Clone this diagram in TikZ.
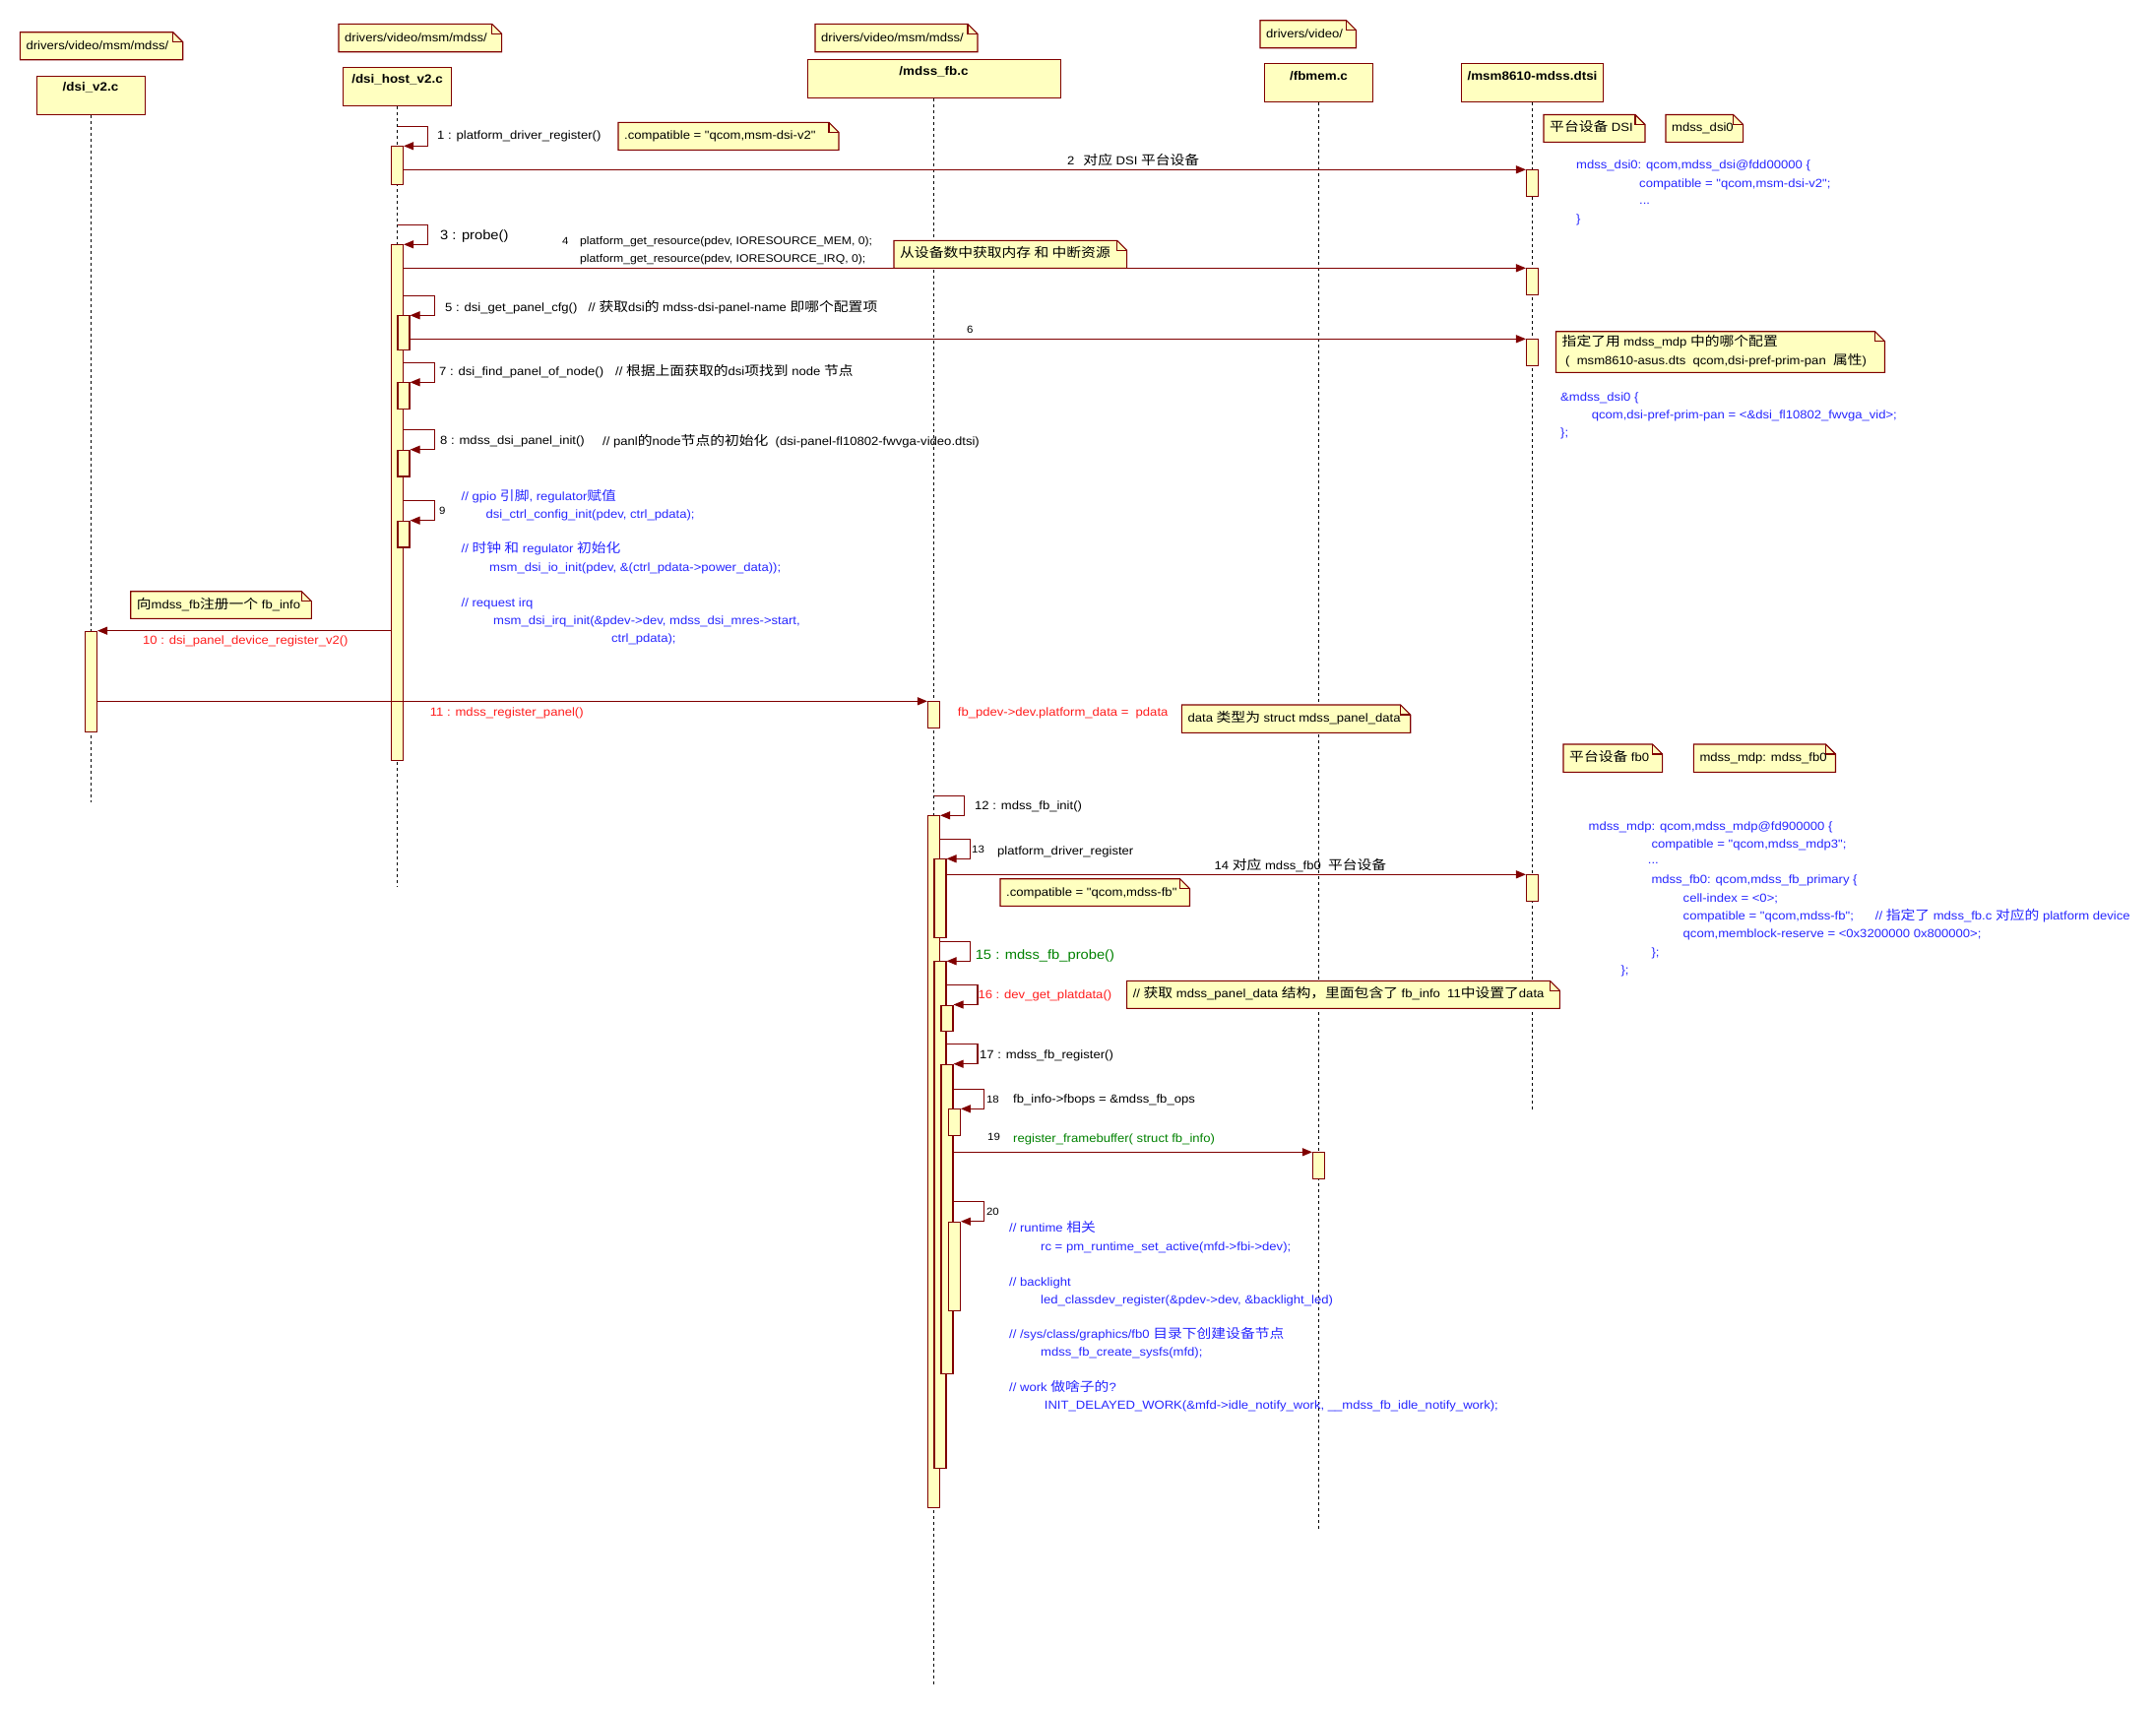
\documentclass[tikz,border=0pt]{standalone}
\usepackage{fontspec}
\setmainfont{Liberation Sans}[FakeStretch=1.09, Ligatures=TeXOff]
\newfontfamily\cjkfont{Noto Sans CJK SC}[Scale=1.1, FakeStretch=1.12]
\newcommand{\zh}[1]{{\cjkfont #1}}
\usetikzlibrary{arrows.meta,calc}

\definecolor{umlred}{RGB}{128,0,0}
\definecolor{umlyellow}{RGB}{255,255,192}
\definecolor{codeblue}{RGB}{40,40,255}
\definecolor{msgred}{RGB}{255,30,30}
\definecolor{msggreen}{RGB}{0,130,0}

\tikzset{
  lifeline/.style={black, line width=0.8pt, dash pattern=on 3pt off 3pt},
  headbox/.style={draw=umlred, fill=umlyellow, line width=1pt, minimum height=39pt, anchor=north, inner sep=0pt},
  headtitle/.style={font=\fontsize{12.3}{14}\selectfont\bfseries, inner sep=0pt},
  actbox/.style={draw=umlred, fill=umlyellow, line width=1.1pt, minimum width=12pt, anchor=north, inner sep=0pt},
  msg/.style={draw=umlred, line width=1.1pt, -{Triangle[length=10pt,width=8pt]}},
  lbl/.style={anchor=west, inner sep=0pt, font=\fontsize{12}{14}\selectfont, text height=9.5pt, text depth=2.5pt},
  biglbl/.style={lbl, font=\fontsize{13.5}{16}\selectfont, text height=11pt, text depth=3pt},
  numlbl/.style={lbl, font=\fontsize{10.5}{12}\selectfont},
  caplbl/.style={lbl, font=\fontsize{11.2}{13}\selectfont},
  codelbl/.style={lbl, text=codeblue},
  notefill/.style={fill=umlyellow, draw=umlred, line width=1.1pt},
}

% note outline with folded corner: x1, y1, x2, y2
\newcommand{\umlnotebox}[4]{%
  \draw[notefill] (#1,#2) -- ({#3-10},#2) -- (#3,{#2+10}) -- (#3,#4) -- (#1,#4) -- cycle;
  \draw[umlred, line width=1.1pt] ({#3-10},#2) -- ({#3-10},{#2+10}) -- (#3,{#2+10});
}
% note with one line of text: name, x1, y1, x2, y2, text
\newcommand{\umlnote}[6]{%
  \umlnotebox{#2}{#3}{#4}{#5}
  \node[lbl] (#1) at ({#2+6},{(#3+#5)/2}) {#6};
}

\begin{document}
\begin{tikzpicture}[x=1pt, y=-1pt]

    \fill[white] (0,0) rectangle (2190,1735);
    \useasboundingbox (0,0) rectangle (2190,1735);

    % Lifeline heads
    \node[headbox, minimum width=110pt] (v2head) at (92,76.7) {};
    \node[headbox, minimum width=110pt] (hosthead) at (403.5,68.3) {};
    \node[headbox, minimum width=257pt] (fbhead) at (948.5,60.3) {};
    \node[headbox, minimum width=110pt] (memhead) at (1339.5,64.3) {};
    \node[headbox, minimum width=144pt] (dtsihead) at (1556.5,64.3) {};

    \node[headtitle] (v2title) at ($(v2head.north)+(0,12.5)$) {/dsi\_v2.c};
    \node[headtitle] (hosttitle) at ($(hosthead.north)+(0,12.5)$) {/dsi\_host\_v2.c};
    \node[headtitle] (fbtitle) at ($(fbhead.north)+(0,12)$) {/mdss\_fb.c};
    \node[headtitle] (memtitle) at ($(memhead.north)+(0,12.5)$) {/fbmem.c};
    \node[headtitle] (dtsititle) at ($(dtsihead.north)+(0,12.5)$) {/msm8610-mdss.dtsi};

    % Lifelines
    \draw[lifeline] (v2head.south) -- ++(0,698);
    \draw[lifeline] (hosthead.south) -- ++(0,793);
    \draw[lifeline] (fbhead.south) -- ++(0,1612);
    \draw[lifeline] (memhead.south) -- ++(0,1449);
    \draw[lifeline] (dtsihead.south) -- ++(0,1024);

    % Activations
    \node[actbox, minimum height=39pt] (a1) at (403.5,148.3) {};
    \node[actbox, minimum height=27pt] (a2) at (1556.5,172.3) {};
    \node[actbox, minimum height=523.4pt] (a3) at (403.5,248.3) {};
    \node[actbox, minimum height=27pt] (a4) at (1556.5,272.3) {};
    \node[actbox, minimum height=35pt] (a5) at (410,320.3) {};
    \node[actbox, minimum height=27pt] (a6) at (1556.5,344.3) {};
    \node[actbox, minimum height=26.7pt] (a7) at (410,388.3) {};
    \node[actbox, minimum height=26.7pt] (a8) at (410,456.7) {};
    \node[actbox, minimum height=26.7pt] (a9) at (410,528.7) {};
    \node[actbox, minimum height=102.3pt] (a10) at (92.5,640.7) {};
    \node[actbox, minimum height=27pt] (a11) at (948.5,712.3) {};
    \node[actbox, minimum height=702.7pt] (a12) at (948.5,828.3) {};
    \node[actbox, minimum height=79.4pt] (a13) at (955,872.3) {};
    \node[actbox, minimum height=27pt] (a14) at (1556.5,888.3) {};
    \node[actbox, minimum height=514.7pt] (a15) at (955,976.3) {};
    \node[actbox, minimum height=26.8pt] (a16) at (962,1020.5) {};
    \node[actbox, minimum height=314.3pt] (a17) at (962,1080.7) {};
    \node[actbox, minimum height=27pt] (a18) at (969.4,1126.3) {};
    \node[actbox, minimum height=27pt] (a19) at (1339.5,1170.3) {};
    \node[actbox, minimum height=90.6pt] (a20) at (969.4,1240.7) {};

    % Messages
    \draw[msg] ($(a1.north)+(0,-20)$) -- ++(30.8,0) -- ++(0,20) -- (a1.north east);
    \draw[msg] (a1.east |- a2.north) -- (a2.north west);
    \draw[msg] ($(a3.north)+(0,-20)$) -- ++(30.8,0) -- ++(0,20) -- (a3.north east);
    \draw[msg] (a3.east |- a4.north) -- (a4.north west);
    \draw[msg] ($(a3.east |- a5.north)+(0,-20)$) -- ++(31.2,0) -- ++(0,20) -- (a5.north east);
    \draw[msg] (a5.east |- a6.north) -- (a6.north west);
    \draw[msg] ($(a3.east |- a7.north)+(0,-20)$) -- ++(31.2,0) -- ++(0,20) -- (a7.north east);
    \draw[msg] ($(a3.east |- a8.north)+(0,-20)$) -- ++(31.2,0) -- ++(0,20) -- (a8.north east);
    \draw[msg] ($(a3.east |- a9.north)+(0,-20)$) -- ++(31.2,0) -- ++(0,20) -- (a9.north east);
    \draw[msg] (a3.west |- a10.north) -- (a10.north east);
    \draw[msg] (a10.east |- a11.north) -- (a11.north west);
    \draw[msg] ($(a12.north)+(0,-20)$) -- ++(31,0) -- ++(0,20) -- (a12.north east);
    \draw[msg] ($(a12.east |- a13.north)+(0,-20)$) -- ++(30.8,0) -- ++(0,20) -- (a13.north east);
    \draw[msg] (a13.east |- a14.north) -- (a14.north west);
    \draw[msg] ($(a12.east |- a15.north)+(0,-20)$) -- ++(30.8,0) -- ++(0,20) -- (a15.north east);
    \draw[msg] ($(a15.east |- a16.north)+(0,-20)$) -- ++(31.4,0) -- ++(0,20) -- (a16.north east);
    \draw[msg] ($(a15.east |- a17.north)+(0,-20)$) -- ++(31.4,0) -- ++(0,20) -- (a17.north east);
    \draw[msg] ($(a17.east |- a18.north)+(0,-20)$) -- ++(30.7,0) -- ++(0,20) -- (a18.north east);
    \draw[msg] (a17.east |- a19.north) -- (a19.north west);
    \draw[msg] ($(a17.east |- a20.north)+(0,-20)$) -- ++(30.7,0) -- ++(0,20) -- (a20.north east);

    % Notes
    \umlnote{n1}{20.4}{32.7}{185.7}{60.7}{drivers/video/msm/mdss/}
    \umlnote{n2}{344}{24.3}{509.6}{52.7}{drivers/video/msm/mdss/}
    \umlnote{n3}{828}{24.3}{993}{52.7}{drivers/video/msm/mdss/}
    \umlnote{n4}{1280}{20.7}{1377.5}{48.7}{drivers/video/}
    \umlnote{n5}{628}{124.3}{852}{152.3}{.compatible = "qcom,msm-dsi-v2"}
    \umlnote{n6}{1568}{116.5}{1671}{144.3}{\zh{平台设备} DSI}
    \umlnote{n7}{1692}{116.5}{1770.6}{144.3}{mdss\_dsi0}
    \umlnote{n8}{908}{244.3}{1144.6}{272.3}{\zh{从设备数中获取内存 和 中断资源}}
    \umlnotebox{1580.5}{336.7}{1914.5}{378.3}
    \node[lbl] (n9a) at (1586.5,347.7) {\zh{指定了用} mdss\_mdp \zh{中的哪个配置}};
    \node[lbl] (n9b) at (1590,366.7) {(\ \ msm8610-asus.dts\ \ qcom,dsi-pref-prim-pan\ \ \zh{属性})};
    \umlnote{n10}{132.7}{600.7}{316.3}{628.3}{\zh{向}mdss\_fb\zh{注册一个} fb\_info}
    \umlnote{n11}{1200.4}{716}{1432.7}{744.3}{data \zh{类型为} struct mdss\_panel\_data}
    \umlnote{n12}{1588}{756}{1688.6}{784.3}{\zh{平台设备} fb0}
    \umlnote{n13}{1720.3}{756}{1864.5}{784.3}{mdss\_mdp: mdss\_fb0}
    \umlnote{n14}{1016}{892.7}{1208.5}{920.3}{.compatible = "qcom,mdss-fb"}
    \umlnote{n15}{1144.6}{996.3}{1584.4}{1024.3}{// \zh{获取} mdss\_panel\_data \zh{结构，里面包含了} fb\_info\ \ 11\zh{中设置了}data}

    % Message labels
    \node[lbl] (l1) at (444,138) {1 : platform\_driver\_register()};
    \node[lbl] (l2) at (1084,164) {2\hspace{9pt}\zh{对应} DSI \zh{平台设备}};
    \node[biglbl] (l3) at (447,239) {3 : probe()};
    \node[numlbl] (l4) at (571,244.5) {4};
    \node[caplbl] (l4a) at (589,244.5) {platform\_get\_resource(pdev, IORESOURCE\_MEM, 0);};
    \node[caplbl] (l4b) at (589,263) {platform\_get\_resource(pdev, IORESOURCE\_IRQ, 0);};
    \node[lbl] (l5) at (452,313.3) {5 : dsi\_get\_panel\_cfg()};
    \node[lbl] (c5) at (597.4,313.3) {// \zh{获取}dsi\zh{的} mdss-dsi-panel-name \zh{即哪个配置项}};
    \node[numlbl] (l6) at (982,335) {6};
    \node[lbl] (l7) at (446,377.7) {7 : dsi\_find\_panel\_of\_node()};
    \node[lbl] (c7) at (625,377.7) {// \zh{根据上面获取的}dsi\zh{项找到} node \zh{节点}};
    \node[lbl] (l8) at (447,448) {8 : mdss\_dsi\_panel\_init()};
    \node[lbl] (c8) at (612,449) {// panl\zh{的}node\zh{节点的初始化}\ \ (dsi-panel-fl10802-fwvga-video.dtsi)};
    \node[numlbl] (l9) at (446,519.3) {9};
    \node[lbl, text=msgred] (l10) at (145,650.7) {10 : dsi\_panel\_device\_register\_v2()};
    \node[lbl, text=msgred] (l11) at (436.7,724) {11 : mdss\_register\_panel()};
    \node[lbl, text=msgred] (r11) at (972.7,724.3) {fb\_pdev->dev.platform\_data =\ \ pdata};
    \node[lbl] (l12) at (990,819) {12 : mdss\_fb\_init()};
    \node[numlbl] (l13) at (987,862.7) {13};
    \node[lbl] (l13a) at (1013,865) {platform\_driver\_register};
    \node[lbl] (l14) at (1233.5,880) {14 \zh{对应} mdss\_fb0\ \ \zh{平台设备}};
    \node[biglbl, text=msggreen] (l15) at (990.6,970) {15 : mdss\_fb\_probe()};
    \node[lbl, text=msgred] (l16) at (993.3,1010.7) {16 : dev\_get\_platdata()};
    \node[lbl] (l17) at (995,1071.7) {17 : mdss\_fb\_register()};
    \node[numlbl] (l18) at (1001.8,1116.7) {18};
    \node[lbl] (l18a) at (1029,1116.7) {fb\_info->fbops = \&mdss\_fb\_ops};
    \node[numlbl] (l19) at (1003,1155) {19};
    \node[lbl, text=msggreen] (l19a) at (1029,1156.7) {register\_framebuffer( struct fb\_info)};
    \node[numlbl] (l20) at (1001.8,1231) {20};

    % Code in dsi_host
    \node[codelbl] (k1) at (468.5,505) {// gpio \zh{引脚}, regulator\zh{赋值}};
    \node[codelbl] (k2) at (493.4,522.7) {dsi\_ctrl\_config\_init(pdev, ctrl\_pdata);};
    \node[codelbl] (k3) at (468.5,558.3) {// \zh{时钟 和} regulator \zh{初始化}};
    \node[codelbl] (k4) at (497,576.7) {msm\_dsi\_io\_init(pdev, \&(ctrl\_pdata->power\_data));};
    \node[codelbl] (k5) at (468.5,613.3) {// request irq};
    \node[codelbl] (k6) at (501,631) {msm\_dsi\_irq\_init(\&pdev->dev, mdss\_dsi\_mres->start,};
    \node[codelbl] (k7) at (621,649) {ctrl\_pdata);};

    % Code in mdss_fb
    \node[codelbl] (f1) at (1025,1248.3) {// runtime \zh{相关}};
    \node[codelbl] (f2) at (1057,1266.7) {rc = pm\_runtime\_set\_active(mfd->fbi->dev);};
    \node[codelbl] (f3) at (1025,1302.7) {// backlight};
    \node[codelbl] (f4) at (1057,1320.7) {led\_classdev\_register(\&pdev->dev, \&backlight\_led)};
    \node[codelbl] (f5) at (1025,1356) {// /sys/class/graphics/fb0 \zh{目录下创建设备节点}};
    \node[codelbl] (f6) at (1057,1374.3) {mdss\_fb\_create\_sysfs(mfd);};
    \node[codelbl] (f7) at (1025,1410) {// work \zh{做啥子的}?};
    \node[codelbl] (f8) at (1060.7,1428.3) {INIT\_DELAYED\_WORK(\&mfd->idle\_notify\_work, \_\_mdss\_fb\_idle\_notify\_work);};

    % Device tree
    \node[codelbl] (d1) at (1601,168.3) {mdss\_dsi0: qcom,mdss\_dsi@fdd00000 \{};
    \node[codelbl] (d2) at (1665,186.7) {compatible = "qcom,msm-dsi-v2";};
    \node[codelbl] (d3) at (1665,204) {...};
    \node[codelbl] (d4) at (1601,223) {\}};
    \node[codelbl] (p1) at (1585,404.3) {\&mdss\_dsi0 \{};
    \node[codelbl] (p2) at (1616.6,422.3) {qcom,dsi-pref-prim-pan = <\&dsi\_fl10802\_fwvga\_vid>;};
    \node[codelbl] (p3) at (1585,440) {\};};
    \node[codelbl] (m1) at (1613.4,840) {mdss\_mdp: qcom,mdss\_mdp@fd900000 \{};
    \node[codelbl] (m2) at (1677.3,858.3) {compatible = "qcom,mdss\_mdp3";};
    \node[codelbl] (m3) at (1673.7,874) {...};
    \node[codelbl] (m4) at (1677.3,894.3) {mdss\_fb0: qcom,mdss\_fb\_primary \{};
    \node[codelbl] (m5) at (1709.5,912.7) {cell-index = <0>;};
    \node[codelbl] (m6) at (1709.5,930.7) {compatible = "qcom,mdss-fb";};
    \node[codelbl] (m6c) at (1904.7,930.7) {// \zh{指定了} mdss\_fb.c \zh{对应的} platform device};
    \node[codelbl] (m7) at (1709.5,949) {qcom,memblock-reserve = <0x3200000 0x800000>;};
    \node[codelbl] (m8) at (1677.3,967.7) {\};};
    \node[codelbl] (m9) at (1646.4,985.7) {\};};

\end{tikzpicture}
\end{document}
